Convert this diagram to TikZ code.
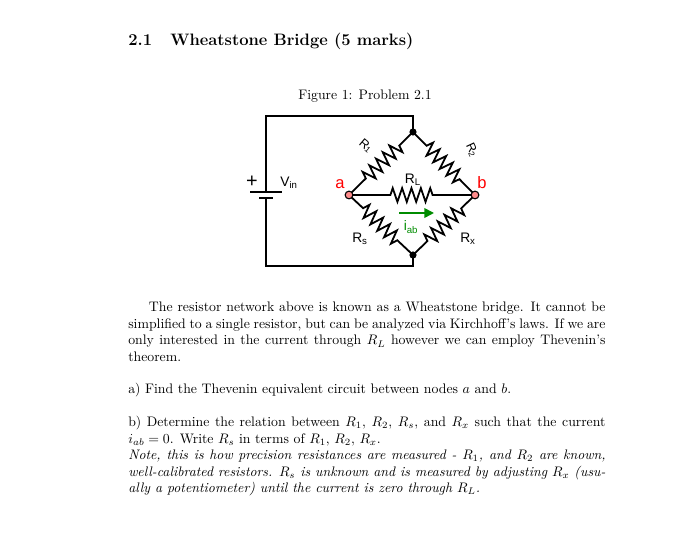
\documentclass[tikz,border=0pt]{standalone}
\usepackage{fontspec}
\newfontfamily\hv{Liberation Sans}
\usetikzlibrary{decorations.pathmorphing,arrows.meta,calc}
\begin{document}
\begin{tikzpicture}[x=0.725pt,y=-0.725pt,
  wire/.style={line width=1.3pt},
  res/.style={wire,decorate,decoration={zigzag,segment length=6.8pt,amplitude=5pt,pre length=#1,post length=#1}},
  lab/.style={font=\hv\normalsize},
  par/.style={anchor=north west,inner sep=0pt,text width=346pt,align=justify,font=\normalsize}]
\useasboundingbox (0,0) rectangle (700,550);
\node[anchor=west,inner sep=0pt,font=\large\bfseries] (h) at (128,41) {2.1\hspace{1.1em}Wheatstone Bridge (5 marks)};
\node[inner sep=0pt] (cap) at (365,96) {Figure 1: Problem 2.1};
% circuit nodes
\coordinate (T) at (413,132);
\coordinate (B) at (413,255);
\coordinate (A) at (349,195);
\coordinate (Bn) at (475,195);
\coordinate (TL) at (266,116);
\coordinate (TR) at (413,116);
\coordinate (BL) at (266,266);
\coordinate (BR) at (413,266);
\coordinate (P1) at (266,192);
\coordinate (P2) at (266,198);
\draw[wire] (P1) -- (TL) -- (TR) -- (T);
\draw[wire] (P2) -- (BL) -- (BR) -- (B);
\draw[wire] ($(P1)+(-16,0)$) -- ++(32,0);
\draw[wire] ($(P2)+(-7,0)$) -- ++(14,0);
\draw[res=14pt] (T) -- (A);
\draw[res=14pt] (T) -- (Bn);
\draw[res=14pt] (A) -- (B);
\draw[res=14pt] (Bn) -- (B);
\draw[res=30pt] (A) -- (Bn);
\fill (T) circle (2.6pt);
\fill (B) circle (2.6pt);
\draw[line width=0.8pt,fill=red!45] (A) circle (2.8pt);
\draw[line width=0.8pt,fill=red!45] (Bn) circle (2.8pt);
\node[lab,rotate=-40,font=\hv\small] (r1) at (366,146) {R\textsubscript{1}};
\node[lab,rotate=-65,font=\hv\small] (r2) at (472,150) {R\textsubscript{2}};
\node[lab] (rl) at (413,180) {R\textsubscript{L}};
\node[lab] (rs) at (360,239) {R\textsubscript{s}};
\node[lab] (rx) at (468,239) {R\textsubscript{x}};
\node[lab] (vin) at (289,183) {V\textsubscript{in}};
\node[lab,font=\hv\Large] (plus) at (252,182) {+};
\node[lab,text=red,font=\hv\large] (la) at (340,184) {a};
\node[lab,text=red,font=\hv\large] (lb) at (482,183) {b};
\coordinate (i1) at (399,213);
\coordinate (i2) at (434,213);
\draw[line width=1.2pt,green!55!black,-{Triangle[length=7pt,width=7pt]}] (i1) -- (i2);
\node[lab,text=green!55!black] (iab) at (411,227) {i\textsubscript{ab}};
% text
\node[par] (p1) at (128,302) {\hspace*{1.5em}The resistor network above is known as a Wheatstone bridge. It cannot be simplified to a single resistor, but can be analyzed via Kirchhoff's laws. If we are only interested in the current through $R_L$ however we can employ Thevenin's theorem.};
\node[par] (p2) at (128,383) {a) Find the Thevenin equivalent circuit between nodes $a$ and $b$.};
\node[par] (p3) at (128,416) {b) Determine the relation between $R_1$, $R_2$, $R_s$, and $R_x$ such that the current $i_{ab}=0$. Write $R_s$ in terms of $R_1$, $R_2$, $R_x$.\\
\emph{Note, this is how precision resistances are measured - $R_1$, and $R_2$ are known, well-calibrated resistors. $R_s$ is unknown and is measured by adjusting $R_x$ (usu\-ally a potentiometer) until the current is zero through $R_L$.}};
\end{tikzpicture}
\end{document}
